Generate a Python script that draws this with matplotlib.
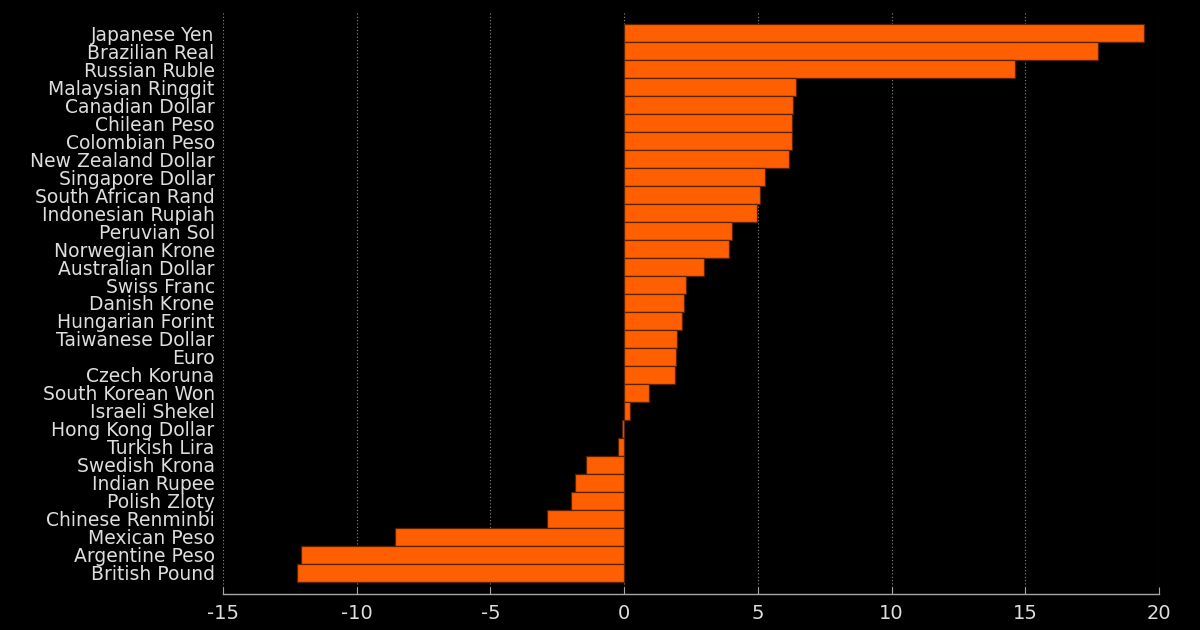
import matplotlib

matplotlib.use("Agg")
import matplotlib.pyplot as plt
import numpy as np

currencies = ["Japanese Yen", "Brazilian Real", "Russian Ruble", "Malaysian Ringgit",
              "Canadian Dollar", "Chilean Peso", "Colombian Peso", "New Zealand Dollar",
              "Singapore Dollar", "South African Rand", "Indonesian Rupiah", "Peruvian Sol",
              "Norwegian Krone", "Australian Dollar", "Swiss Franc", "Danish Krone",
              "Hungarian Forint", "Taiwanese Dollar", "Euro", "Czech Koruna",
              "South Korean Won", "Israeli Shekel", "Hong Kong Dollar", "Turkish Lira",
              "Swedish Krona", "Indian Rupee", "Polish Zloty", "Chinese Renminbi",
              "Mexican Peso", "Argentine Peso", "British Pound"]
pct_change = [19.45, 17.72, 14.6, 6.43, 6.31, 6.29, 6.26, 6.17,
              5.27, 5.09, 4.97, 4.04, 3.93, 3.0, 2.33, 2.24,
              2.18, 1.97, 1.95, 1.89, 0.93, 0.23, -0.08, -0.22,
              -1.43, -1.83, -1.99, -2.9, -8.56, -12.1, -12.22]
x_ticks = [-15, -10, -5, 0, 5, 10, 15, 20]

BAR = "#ff5f00"
EDGE = "#5a2200"
TXT = "#dedede"

fig = plt.figure(figsize=(12, 6.3), dpi=100, facecolor="black")
ax = fig.add_axes([0.1858, 0.0571, 0.78, 0.9239], facecolor="black")

y = np.arange(len(currencies))
ax.barh(y, pct_change, height=0.97, color=BAR, edgecolor=EDGE, linewidth=0.9, zorder=3)

ax.set_yticks(y)
ax.set_yticklabels(currencies)
ax.set_ylim(len(currencies) - 1 + 1.17, -1.17)
ax.set_xlim(-15, 20)
ax.set_xticks(x_ticks)
ax.set_xticklabels([str(t) for t in x_ticks])

ax.grid(axis="x", color="#8a8a8a", linestyle=(0, (1, 2)), linewidth=0.8, zorder=0)
for s in ["top", "right", "left"]:
    ax.spines[s].set_visible(False)
ax.spines["bottom"].set_color("#a6a6a6")
ax.spines["bottom"].set_linewidth(1.0)

ax.tick_params(axis="y", length=0, pad=6, labelsize=13.5, labelcolor=TXT)
ax.tick_params(axis="x", direction="in", length=5, color="#a6a6a6", pad=7,
               labelsize=14, labelcolor=TXT)

fig.savefig("out.png", dpi=100, facecolor="black")
